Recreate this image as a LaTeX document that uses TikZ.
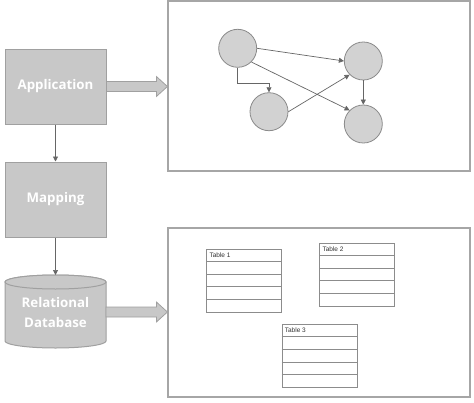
\documentclass[tikz,border=0pt]{standalone}
\usepackage{fontspec}
\setmainfont{Open Sans}
\newfontfamily\lblfont{Liberation Sans}
\usetikzlibrary{arrows.meta,calc}
\definecolor{boxfill}{HTML}{C8C8C8}
\definecolor{boxline}{HTML}{A0A0A0}
\definecolor{panelline}{HTML}{A6A6A6}
\definecolor{circfill}{HTML}{D2D2D2}
\definecolor{circline}{HTML}{8A8A8A}
\definecolor{edgecol}{HTML}{666666}
\definecolor{tblline}{HTML}{8C8C8C}
\begin{document}
\begin{tikzpicture}[x=1pt,y=-1pt,
  block/.style={draw=boxline,fill=boxfill,line width=1pt,minimum width=101pt,minimum height=75pt,inner sep=0pt,text=white,font=\bfseries\fontsize{13.3}{15}\selectfont,align=center},
  panel/.style={draw=panelline,line width=1.2pt,fill=white,minimum width=302pt,inner sep=0pt},
  circ/.style={circle,draw=circline,fill=circfill,line width=0.8pt,minimum size=38pt,inner sep=0pt},
  edge/.style={draw=edgecol,line width=0.7pt,-{Triangle[length=5pt,width=5pt]}},
  bigarrow/.style={draw=boxline,fill=boxfill,line width=0.8pt,line join=miter},
  tbox/.style={draw=tblline,line width=0.7pt,minimum width=75pt,minimum height=63pt,inner sep=0pt},
  tline/.style={draw=tblline,line width=0.7pt},
  tlabel/.style={anchor=west,inner sep=0pt,font=\lblfont\fontsize{6.5}{7}\selectfont,text=black!80}
]
\useasboundingbox (0,0) rectangle (474,402);
\fill[white] (0,0) rectangle (474,402);

% panels
\node[panel,minimum height=170pt] (top) at (319,86) {};
\node[panel,minimum height=169pt] (bot) at (319,312.5) {};

% left column
\node[block] (app) at (55.5,86.5) {Application};
\node[block] (map) at (55.5,199.5) {Mapping};

% cylinder
\draw[draw=boxline,fill=boxfill,line width=1pt]
  (5,282) -- (5,341) arc[start angle=180,end angle=360,x radius=50.5pt,y radius=7pt]
  -- (106,282) arc[start angle=0,end angle=180,x radius=50.5pt,y radius=7pt] -- cycle;
\draw[draw=boxline,fill=boxfill,line width=1pt] (55.5,282) ellipse[x radius=50.5pt,y radius=7pt];
\coordinate (dbtop) at (55.5,275);
\coordinate (dbeast) at (106,312);
\node[inner sep=0pt,text=white,font=\bfseries\fontsize{13.3}{20}\selectfont,align=center] (db) at (55.5,312.5) {Relational\\Database};

% vertical arrows
\draw[edge] (app.south) -- (map.north);
\draw[edge] (map.south) -- (dbtop);

% big arrows
\path[bigarrow] ($(app.east)+(0,-5)$) -- ($(top.west |- app.east)+(-11,-5)$) -- ($(top.west |- app.east)+(-11,-10)$)
  -- (top.west |- app.east) -- ($(top.west |- app.east)+(-11,10)$) -- ($(top.west |- app.east)+(-11,5)$)
  -- ($(app.east)+(0,5)$) -- cycle;
\path[bigarrow] ($(dbeast)+(0,-5)$) -- ($(bot.west |- dbeast)+(-11,-5)$) -- ($(bot.west |- dbeast)+(-11,-10)$)
  -- (bot.west |- dbeast) -- ($(bot.west |- dbeast)+(-11,10)$) -- ($(bot.west |- dbeast)+(-11,5)$)
  -- ($(dbeast)+(0,5)$) -- cycle;

% graph
\node[circ] (c1) at (237.7,48.3) {};
\node[circ] (c2) at (363.3,61) {};
\node[circ] (c3) at (269,111.7) {};
\node[circ] (c4) at (363.3,124) {};
\draw[edge] (c1.east) -- (c2.west);
\draw[edge] (c1.south east) -- (c4.north west);
\draw[edge] (c3.east) -- (c2.south west);
\draw[edge] (c2.south) -- (c4.north);
\draw[edge] (c1.south) |- ($(c3.north)+(0,-9.4)$) -- (c3.north);

% tables
\foreach \n/\pos/\lab in {t1/{(244.2,280.8)}/Table 1, t2/{(357.2,274.5)}/Table 2, t3/{(319.5,356)}/Table 3}{
  \node[tbox] (\n) at \pos {};
  \foreach \i in {1,...,4}{
    \draw[tline] ($(\n.north west)+(0,\i*12.6)$) -- ($(\n.north east)+(0,\i*12.6)$);
  }
  \node[tlabel] (\n-lab) at ($(\n.north west)+(3,6.3)$) {\lab};
}
\end{tikzpicture}
\end{document}
